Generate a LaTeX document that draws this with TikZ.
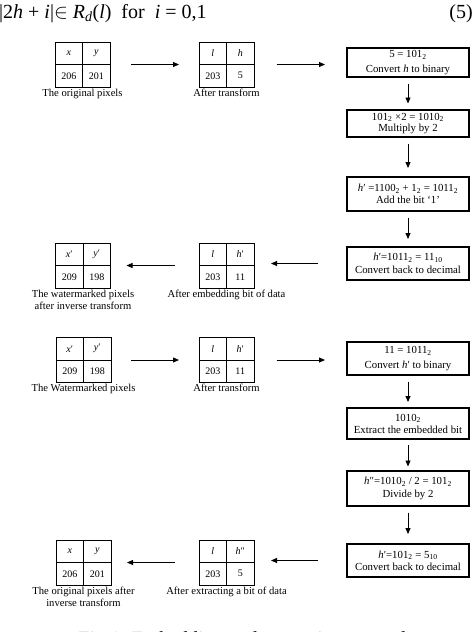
\documentclass[tikz,border=0pt]{standalone}
\usepackage{fontspec}
\setmainfont{Liberation Serif}
\usetikzlibrary{arrows.meta,calc}
\newcommand\pixtab[8]{%
  \node[tbl] (#1) at (#2,#3) {};
  \node[cell] (#1a) at ($(#1.north west)!0.5!(#1.center)$) {#4};
  \node[cell] (#1b) at ($(#1.north east)!0.5!(#1.center)$) {#5};
  \node[cell] (#1c) at ($(#1.south west)!0.5!(#1.center)$) {#6};
  \node[cell] (#1d) at ($(#1.south east)!0.5!(#1.center)$) {#7};
  \node[captext] (#1t) at ([yshift=-1.5pt]#1.south) {#8};
}
\begin{document}
\begin{tikzpicture}[x=1pt,y=-1pt,
  tbl/.style={draw, line width=0.8pt, minimum width=55pt, minimum height=45pt, inner sep=0pt, outer sep=0pt,
    path picture={\draw[line width=0.8pt] (path picture bounding box.north) -- (path picture bounding box.south) (path picture bounding box.west) -- (path picture bounding box.east);}},
  cell/.style={font=\fontsize{10}{11}\selectfont, inner sep=0pt},
  captext/.style={font=\fontsize{10.6}{12.8}\selectfont, align=center, inner sep=0pt, anchor=north},
  flow/.style={draw, line width=1.1pt, minimum width=122pt, align=center, font=\fontsize{10.8}{12}\selectfont, inner sep=0pt, outer sep=0pt},
  arr/.style={-{Triangle[length=6pt,width=5pt]}, line width=0.8pt},
  big/.style={font=\fontsize{20}{24}\selectfont, inner sep=0pt},
]
\useasboundingbox (0,0) rectangle (474,632);
\clip (0,0) rectangle (474,632);

% header equation
\node[big, anchor=base west] (eq) at (-1,18) {|2\textit{h} + \textit{i}|$\in$ \textit{R}\textsubscript{\textit{d}}(\textit{l})\ \ for\ \ \textit{i} = 0,1};
\node[big, anchor=base east] (eqn) at (473,18) {(5)};

% ---------- embedding ----------
\pixtab{T1}{82.5}{64.5}{\textit{x}}{\textit{y}}{206}{201}{The original pixels}
\pixtab{T2}{226.5}{64.5}{\textit{l}}{\textit{h}}{203}{5}{After transform}
\pixtab{T3}{226.5}{265.5}{\textit{l}}{\textit{h}′}{203}{11}{After embedding bit of data}
\pixtab{T4}{83}{265.5}{\textit{x}′}{\textit{y}′}{209}{198}{The watermarked pixels\\after inverse transform}

\node[flow, minimum height=29pt] (b1) at (408,62.5) {5 = 101\textsubscript{2}\\[2.5pt]Convert \textit{h} to binary};
\node[flow, minimum height=27pt] (b2) at (408,123.5) {101\textsubscript{2} ×2 = 1010\textsubscript{2}\\[-0.5pt]Multiply by 2};
\node[flow, minimum height=34pt] (b3) at (408,194) {\textit{h}′ =1100\textsubscript{2} + 1\textsubscript{2} = 1011\textsubscript{2}\\Add the bit ‘1’};
\node[flow, minimum height=33pt] (b4) at (408,263.5) {\textit{h}′=1011\textsubscript{2} = 11\textsubscript{10}\\[0.5pt]Convert back to decimal};

\draw[arr, shorten <=21pt, shorten >=20pt] (T1) -- (T2);
\draw[arr, shorten <=22.7pt, shorten >=22pt] (T2.east) -- (T2.east -| b1.west);
\draw[arr, shorten <=6.5pt, shorten >=6.5pt] (b1) -- (b2);
\draw[arr, shorten <=6.5pt, shorten >=9pt] (b2) -- (b3);
\draw[arr, shorten <=6.5pt, shorten >=8pt] (b3) -- (b4);
\draw[arr, shorten <=29pt, shorten >=17pt] (b4.west) -- (b4.west -| T3.east);
\draw[arr, shorten <=24pt, shorten >=16pt] (T3) -- (T4);

% ---------- extraction ----------
\pixtab{T5}{83.5}{360}{\textit{x}′}{\textit{y}′}{209}{198}{The Watermarked pixels}
\pixtab{T6}{226.5}{360}{\textit{l}}{\textit{h}′}{203}{11}{After transform}
\pixtab{T7}{226.5}{562.5}{\textit{l}}{\textit{h}″}{203}{5}{After extracting a bit of data}
\pixtab{T8}{83.5}{562.5}{\textit{x}}{\textit{y}}{206}{201}{The original pixels after\\inverse transform}

\node[flow, minimum height=33pt] (b5) at (408,358.5) {11 = 1011\textsubscript{2}\\[2.5pt]Convert \textit{h}′ to binary};
\node[flow, minimum height=31pt] (b6) at (408,423.5) {1010\textsubscript{2}\\[0pt]Extract the embedded bit};
\node[flow, minimum height=35pt] (b7) at (408,488.5) {\textit{h}″=1010\textsubscript{2} / 2 = 101\textsubscript{2}\\[1pt]Divide by 2};
\node[flow, minimum height=33pt] (b8) at (408,560.5) {\textit{h}′=101\textsubscript{2} = 5\textsubscript{10}\\Convert back to decimal};

\draw[arr, shorten <=20pt, shorten >=20pt] (T5) -- (T6);
\draw[arr, shorten <=22.7pt, shorten >=22pt] (T6.east) -- (T6.east -| b5.west);
\draw[arr, shorten <=6.5pt, shorten >=6pt] (b5) -- (b6);
\draw[arr, shorten <=6pt, shorten >=4.5pt] (b6) -- (b7);
\draw[arr, shorten <=6.5pt, shorten >=10pt] (b7) -- (b8);
\draw[arr, shorten <=29pt, shorten >=17pt] (b8.west) -- (b8.west -| T7.east);
\draw[arr, shorten <=24pt, shorten >=16pt] (T7) -- (T8);

% figure caption, cut by the lower edge as in the source
\node[big, anchor=base] (fig) at (247,645) {Fig.1. Embedding and extraction example};
\end{tikzpicture}
\end{document}
